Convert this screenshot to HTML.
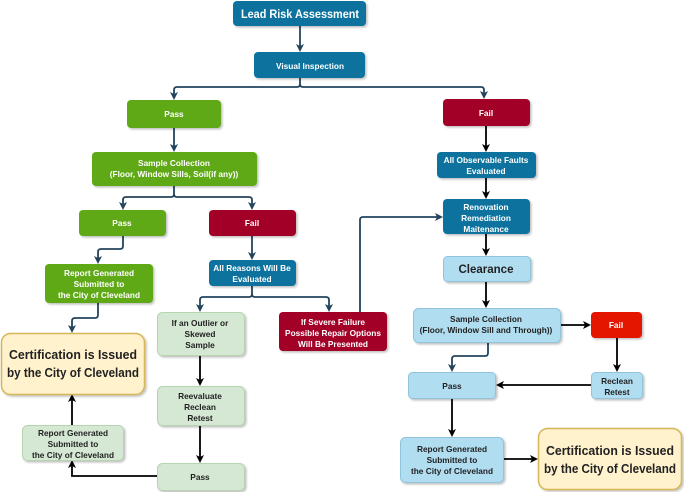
<!DOCTYPE html>
<html><head><meta charset="utf-8"><style>
html,body{margin:0;padding:0;background:#fff;}
svg{display:block;font-family:"Liberation Sans",Arial,sans-serif;font-weight:bold;}
</style></head><body>
<svg width="684" height="492" viewBox="0 0 684 492" xmlns="http://www.w3.org/2000/svg">
<defs>
<marker id="ab" markerWidth="8" markerHeight="8" refX="6" refY="4" orient="auto" markerUnits="userSpaceOnUse"><path d="M0,0 L8,4 L0,8 L2,4 z" fill="#23445d"/></marker>
<marker id="ak" markerWidth="8" markerHeight="8" refX="6" refY="4" orient="auto" markerUnits="userSpaceOnUse"><path d="M0,0 L8,4 L0,8 L2,4 z" fill="#000"/></marker>
<filter id="sh" x="-10%" y="-10%" width="130%" height="140%"><feDropShadow dx="1.5" dy="1.5" stdDeviation="1" flood-opacity="0.25"/></filter>
</defs>
<g fill="none" stroke-width="1.8">
<path d="M300,26 V50" stroke="#23445d" marker-end="url(#ab)"/>
<path d="M300,78 V84 Q300,87 297,87 H177 Q174,87 174,90 V98" stroke="#23445d" marker-end="url(#ab)"/>
<path d="M300,84 Q300,87 303,87 H481 Q484,87 484,90 V97" stroke="#23445d" marker-end="url(#ab)"/>
<path d="M174,128 V150" stroke="#23445d" marker-end="url(#ab)"/>
<path d="M174,186 V194 Q174,197 171,197 H126 Q123,197 123,200 V208" stroke="#23445d" marker-end="url(#ab)"/>
<path d="M174,194 Q174,197 177,197 H249 Q252,197 252,200 V208" stroke="#23445d" marker-end="url(#ab)"/>
<path d="M123,236 V246 Q123,249 120,249 H101 Q98,249 98,252 V262" stroke="#23445d" marker-end="url(#ab)"/>
<path d="M98,303 V315 Q98,318 95,318 H75 Q72,318 72,321 V331" stroke="#23445d" marker-end="url(#ab)"/>
<path d="M252,236 V258" stroke="#23445d" marker-end="url(#ab)"/>
<path d="M252,286 V294 Q252,297 249,297 H203 Q200,297 200,300 V310" stroke="#23445d" marker-end="url(#ab)"/>
<path d="M252,294 Q252,297 255,297 H326 Q329,297 329,300 V310" stroke="#23445d" marker-end="url(#ab)"/>
<path d="M360,312 V220 Q360,217 363,217 H441" stroke="#23445d" marker-end="url(#ab)"/>
<path d="M200,356 V384" stroke="#000" marker-end="url(#ak)"/>
<path d="M200,425 V461" stroke="#000" marker-end="url(#ak)"/>
<path d="M157,476 H72 V462" stroke="#000" marker-end="url(#ak)"/>
<path d="M72,425 V396" stroke="#000" marker-end="url(#ak)"/>
<path d="M486,126 V150" stroke="#000" marker-end="url(#ak)"/>
<path d="M486,178 V197" stroke="#000" marker-end="url(#ak)"/>
<path d="M486,234 V254" stroke="#000" marker-end="url(#ak)"/>
<path d="M486,282 V306" stroke="#000" marker-end="url(#ak)"/>
<path d="M488,343 V353 Q488,356 485,356 H455 Q452,356 452,359 V370" stroke="#23445d" marker-end="url(#ab)"/>
<path d="M561,325 H589" stroke="#000" marker-end="url(#ak)"/>
<path d="M617,338 V370" stroke="#000" marker-end="url(#ak)"/>
<path d="M591,385 H498" stroke="#000" marker-end="url(#ak)"/>
<path d="M452,399 V435" stroke="#000" marker-end="url(#ak)"/>
<path d="M504,459 H536" stroke="#000" marker-end="url(#ak)"/>
</g>
<g filter="url(#sh)">
<rect x="233" y="1" width="133" height="25" rx="4" fill="#10739e"/>
<rect x="254" y="52" width="111" height="26" rx="4" fill="#10739e"/>
<rect x="127" y="100" width="94" height="28" rx="4" fill="#60a917"/>
<rect x="443" y="99" width="87" height="27" rx="4" fill="#a20025"/>
<rect x="92" y="152" width="165" height="34" rx="4" fill="#60a917"/>
<rect x="79" y="210" width="87" height="26" rx="4" fill="#60a917"/>
<rect x="209" y="210" width="87" height="26" rx="4" fill="#a20025"/>
<rect x="45" y="264" width="108" height="39" rx="4" fill="#60a917"/>
<rect x="209" y="260" width="87" height="26" rx="4" fill="#10739e"/>
<rect x="1.5" y="333.5" width="143" height="61" rx="9" fill="#fff2cc" stroke="#d6b656" stroke-width="1.5"/>
<rect x="157.5" y="312.5" width="87" height="43" rx="5" fill="#d5e8d4" stroke="#b7d4b0"/>
<rect x="279" y="312" width="108" height="39" rx="4" fill="#a20025"/>
<rect x="157.5" y="386.5" width="87" height="39" rx="5" fill="#d5e8d4" stroke="#b7d4b0"/>
<rect x="22.5" y="425.5" width="101" height="35" rx="5" fill="#d5e8d4" stroke="#b7d4b0"/>
<rect x="157.5" y="463.5" width="87" height="27" rx="5" fill="#d5e8d4" stroke="#b7d4b0"/>
<rect x="437" y="152" width="99" height="26" rx="4" fill="#10739e"/>
<rect x="443" y="199" width="87" height="35" rx="4" fill="#10739e"/>
<rect x="443.5" y="256.5" width="87" height="25" rx="4" fill="#b1ddf0" stroke="#8fc4dc"/>
<rect x="413.5" y="308.5" width="147" height="34" rx="5" fill="#b1ddf0" stroke="#8fc4dc"/>
<rect x="591" y="312" width="51" height="26" rx="4" fill="#e51400"/>
<rect x="408.5" y="372.5" width="87" height="26" rx="4" fill="#b1ddf0" stroke="#8fc4dc"/>
<rect x="591.5" y="372.5" width="51" height="26" rx="4" fill="#b1ddf0" stroke="#8fc4dc"/>
<rect x="400.5" y="437.5" width="103" height="45" rx="5" fill="#b1ddf0" stroke="#8fc4dc"/>
<rect x="538.5" y="428.5" width="143" height="61" rx="9" fill="#fff2cc" stroke="#d6b656" stroke-width="1.5"/>
</g>
<g text-anchor="middle" fill="#fff" font-size="8.3">
<text x="300" y="18" font-size="11.5" textLength="118" lengthAdjust="spacingAndGlyphs">Lead Risk Assessment</text>
<text x="310" y="69">Visual Inspection</text>
<text x="174" y="117">Pass</text>
<text x="486" y="116">Fail</text>
<text x="174" y="166">Sample Collection</text>
<text x="174" y="177">(Floor, Window Sills, Soil(if any))</text>
<text x="122" y="226">Pass</text>
<text x="252" y="226">Fail</text>
<text x="99" y="276">Report Generated</text>
<text x="99" y="287">Submitted to</text>
<text x="99" y="298">the City of Cleveland</text>
<text x="252" y="271">All Reasons Will Be</text>
<text x="252" y="282">Evaluated</text>
<text x="333" y="325">If Severe Failure</text>
<text x="333" y="336">Possible Repair Options</text>
<text x="333" y="347">Will Be Presented</text>
<text x="486" y="163">All Observable Faults</text>
<text x="486" y="174">Evaluated</text>
<text x="486" y="210">Renovation</text>
<text x="486" y="221">Remediation</text>
<text x="486" y="232">Maitenance</text>
<text x="616" y="328">Fail</text>
</g>
<g text-anchor="middle" fill="#222" font-size="8.3">
<text x="73" y="359" font-size="13" textLength="128" lengthAdjust="spacingAndGlyphs">Certification is Issued</text>
<text x="73" y="377" font-size="13" textLength="132" lengthAdjust="spacingAndGlyphs">by the City of Cleveland</text>
<text x="200" y="326">If an Outlier or</text>
<text x="200" y="337">Skewed</text>
<text x="200" y="348">Sample</text>
<text x="200" y="399">Reevaluate</text>
<text x="200" y="410">Reclean</text>
<text x="200" y="421">Retest</text>
<text x="73" y="436">Report Generated</text>
<text x="73" y="447">Submitted to</text>
<text x="73" y="458">the City of Cleveland</text>
<text x="200" y="480">Pass</text>
<text x="486" y="273" font-size="11.5">Clearance</text>
<text x="486" y="322">Sample Collection</text>
<text x="486" y="333">(Floor, Window Sill and Through))</text>
<text x="452" y="389">Pass</text>
<text x="617" y="384">Reclean</text>
<text x="617" y="395">Retest</text>
<text x="452" y="452">Report Generated</text>
<text x="452" y="463">Submitted to</text>
<text x="452" y="474">the City of Cleveland</text>
<text x="610" y="455" font-size="13" textLength="128" lengthAdjust="spacingAndGlyphs">Certification is Issued</text>
<text x="610" y="473" font-size="13" textLength="132" lengthAdjust="spacingAndGlyphs">by the City of Cleveland</text>
</g>
</svg>
</body></html>
